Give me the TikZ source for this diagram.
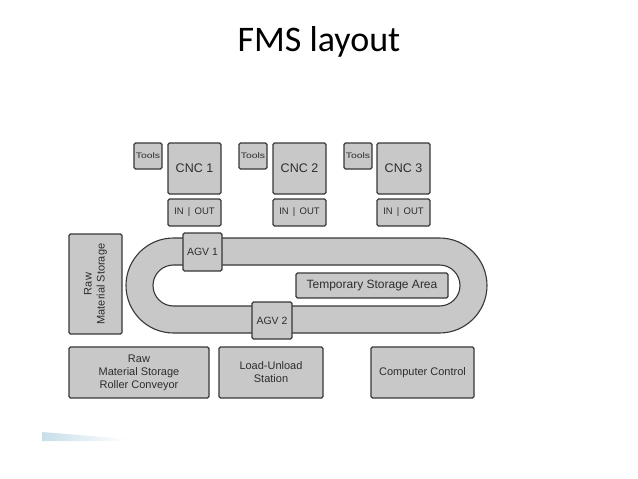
\documentclass[tikz,border=0pt]{standalone}
\usepackage{fontspec}
\setmainfont{Liberation Sans}
\newfontfamily\titlefont{Carlito}
\definecolor{boxgray}{RGB}{200,200,200}
\definecolor{boxline}{RGB}{55,55,55}
\definecolor{textgray}{RGB}{45,45,45}
\definecolor{wedgeblue}{RGB}{200,222,234}
\begin{document}
\begin{tikzpicture}[x=1pt, y=-1pt,
        unit/.style={rectangle, draw=boxline, fill=boxgray, line width=1.1pt, rounded corners=1.5pt, inner sep=0pt, text=textgray, align=center},
        machine/.style={unit, minimum width=53pt, minimum height=51pt, font=\fontsize{12.5}{14}\selectfont},
        tools/.style={unit, minimum width=28pt, minimum height=26pt, font=\fontsize{8}{9}\selectfont},
        inout/.style={unit, minimum width=53pt, minimum height=27pt, font=\fontsize{9.5}{11}\selectfont},
        agv/.style={unit, minimum width=39pt, minimum height=38pt, font=\fontsize{10.5}{12}\selectfont},
        station/.style={unit, minimum height=51pt, font=\fontsize{11}{13}\selectfont},
        track/.style={draw=boxline, fill=boxgray, line width=1.1pt, even odd rule}
    ]
        \useasboundingbox (0,0) rectangle (638,479);

        % Title
        \node[anchor=base, font=\titlefont\fontsize{36}{40}\selectfont] (title) at (319,52) {FMS layout};

        % Machines
        \node[tools] (tools1) at (148,156) {\scalebox{1.3}[1]{Tools}};
        \node[machine] (cnc1) at (194.5,168.5) {CNC 1};
        \node[inout] (io1) at (194.5,212.5) {IN \,|\, OUT};
        \node[tools] (tools2) at (253,156) {\scalebox{1.3}[1]{Tools}};
        \node[machine] (cnc2) at (299.5,168.5) {CNC 2};
        \node[inout] (io2) at (299.5,212.5) {IN \,|\, OUT};
        \node[tools] (tools3) at (358,156) {\scalebox{1.3}[1]{Tools}};
        \node[machine] (cnc3) at (403.5,168.5) {CNC 3};
        \node[inout] (io3) at (403.5,212.5) {IN \,|\, OUT};

        % AGV track
        \path[track] [rounded corners=47.5pt] (126,238) rectangle (487,333)
            [rounded corners=20.5pt] (153,265) rectangle (460,306);
        \node[agv] (agv1) at (202.5,252) {AGV 1};
        \node[agv, minimum width=40pt, minimum height=37pt] (agv2) at (272,320.5) {AGV 2};
        \node[unit, minimum width=152pt, minimum height=25pt, font=\fontsize{12}{14}\selectfont] (temp) at (372,285.5) {Temporary Storage Area};

        % Storage and stations
        \node[unit, minimum width=100pt, minimum height=53pt, rotate=90, font=\fontsize{11}{13}\selectfont] (rawstore) at (95.5,284) {Raw\\Material Storage};
        \node[station, minimum width=140pt] (rawconv) at (139,372.5) {Raw\\Material Storage\\Roller Conveyor};
        \node[station, minimum width=104pt] (load) at (271,372.5) {Load-Unload\\Station};
        \node[station, minimum width=103pt] (control) at (422.5,372.5) {Computer Control};

        % Footer wedge
        \shade[left color=wedgeblue, right color=white] (42,432) -- (128,439) -- (128,441) -- (42,441) -- cycle;
\end{tikzpicture}
\end{document}
